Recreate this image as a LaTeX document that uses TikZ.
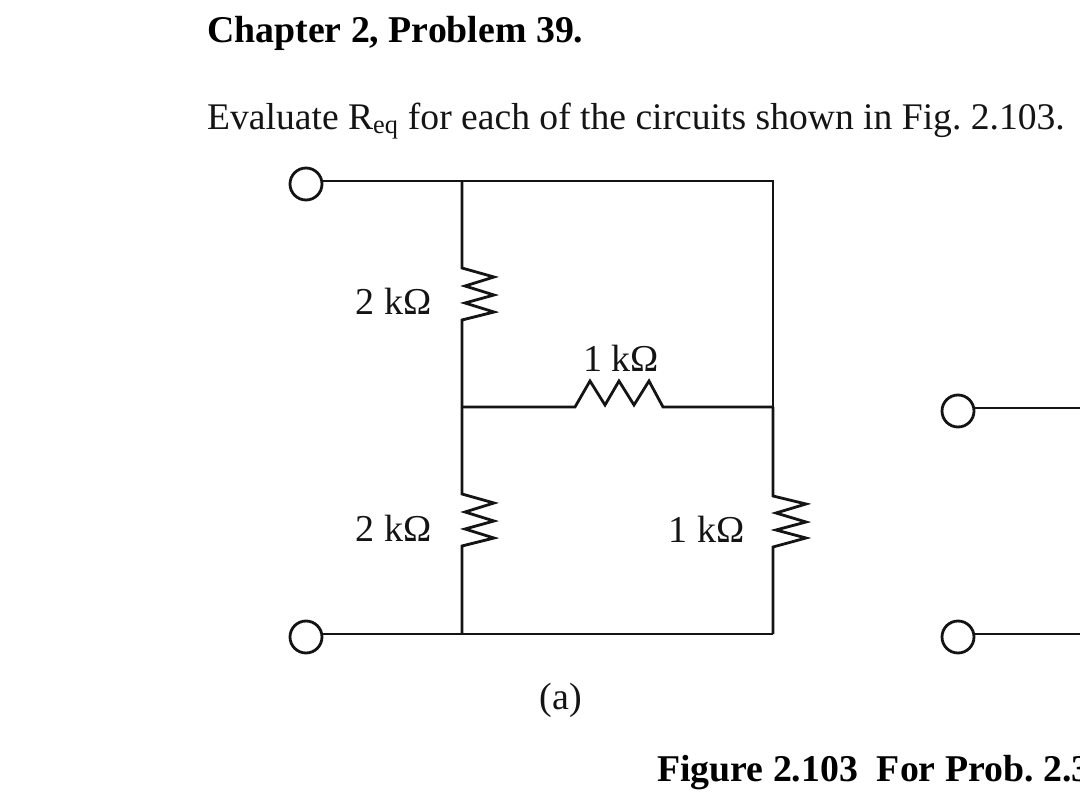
\documentclass[tikz,border=0pt]{standalone}
\usepackage{fontspec}
\setmainfont{Liberation Serif}
\tikzset{
  wire/.style={line width=2.8pt,draw=black!92,line join=miter},
  terminal/.style={circle,draw=black!92,line width=2.8pt,fill=white,minimum size=32pt,inner sep=0pt,outer sep=0pt},
  txt/.style={inner sep=0pt,anchor=base west,text=black!92,font=\fontsize{37.6}{40}\selectfont},
  head/.style={inner sep=0pt,anchor=base west,text=black,font=\bfseries\fontsize{37.8}{40}\selectfont},
  lbl/.style={inner sep=0pt,anchor=base,text=black!92,font=\fontsize{38}{40}\selectfont}
}
\frenchspacing
\begin{document}
\begin{tikzpicture}[x=1pt,y=-1pt]
\useasboundingbox (0,0) rectangle (1080,805);
\clip (0,0) rectangle (1080,805);
% text
\node[head] (title) at (207,42.5) {Chapter 2, Problem 39.};
\node[txt] (intro) at (207,129.5) {Evaluate R\textsubscript{eq} for each of the circuits shown in Fig. 2.103.};
\node[head] (fig) at (657,781) {Figure 2.103\hspace{0.5em}For Prob. 2.3};
\node[lbl] (a) at (561,709) {(a)};
\node[lbl] (r1) at (393.5,315) {2 kΩ};
\node[lbl] (r2) at (393.5,541) {2 kΩ};
\node[lbl] (r3) at (621,371) {1 kΩ};
\node[lbl] (r4) at (706.5,542) {1 kΩ};
% junctions
\coordinate (tl) at (462,181);
\coordinate (tr) at (773,181);
\coordinate (ml) at (462,407);
\coordinate (mr) at (773,407);
\coordinate (bl) at (462,634);
\coordinate (br) at (773,634);
\coordinate (e3) at (1080,408);
\coordinate (e4) at (1080,634);
% terminals
\coordinate (t1c) at (306,184);
\coordinate (t2c) at (306,637);
\coordinate (t3c) at (958,411);
\coordinate (t4c) at (958,637);
% wires
\draw[wire] (t1c |- tl) -- (tl) -- (tr) -- (mr);
\draw[wire] (t2c |- bl) -- (bl) -- (br);
\draw[wire] (t3c |- e3) -- (e3);
\draw[wire] (t4c |- e4) -- (e4);
\node[terminal] (t1) at (t1c) {};
\node[terminal] (t2) at (t2c) {};
\node[terminal] (t3) at (t3c) {};
\node[terminal] (t4) at (t4c) {};
% resistors
\draw[wire] (tl) -- (462,268) -- (494,277) -- (465,286) -- (494,295) -- (465,303) -- (494,312) -- (462,320) -- (ml);
\draw[wire] (ml) -- (462,494) -- (494,503) -- (465,512) -- (494,521) -- (465,529) -- (494,538) -- (462,546) -- (bl);
\draw[wire] (ml) -- (575,407) -- (590,381) -- (605,405) -- (619,381) -- (634,405) -- (649,381) -- (663,407) -- (mr);
\draw[wire] (mr) -- (773,496) -- (806,504) -- (776,513) -- (806,522) -- (776,530) -- (806,538) -- (773,547) -- (br);
\end{tikzpicture}
\end{document}
